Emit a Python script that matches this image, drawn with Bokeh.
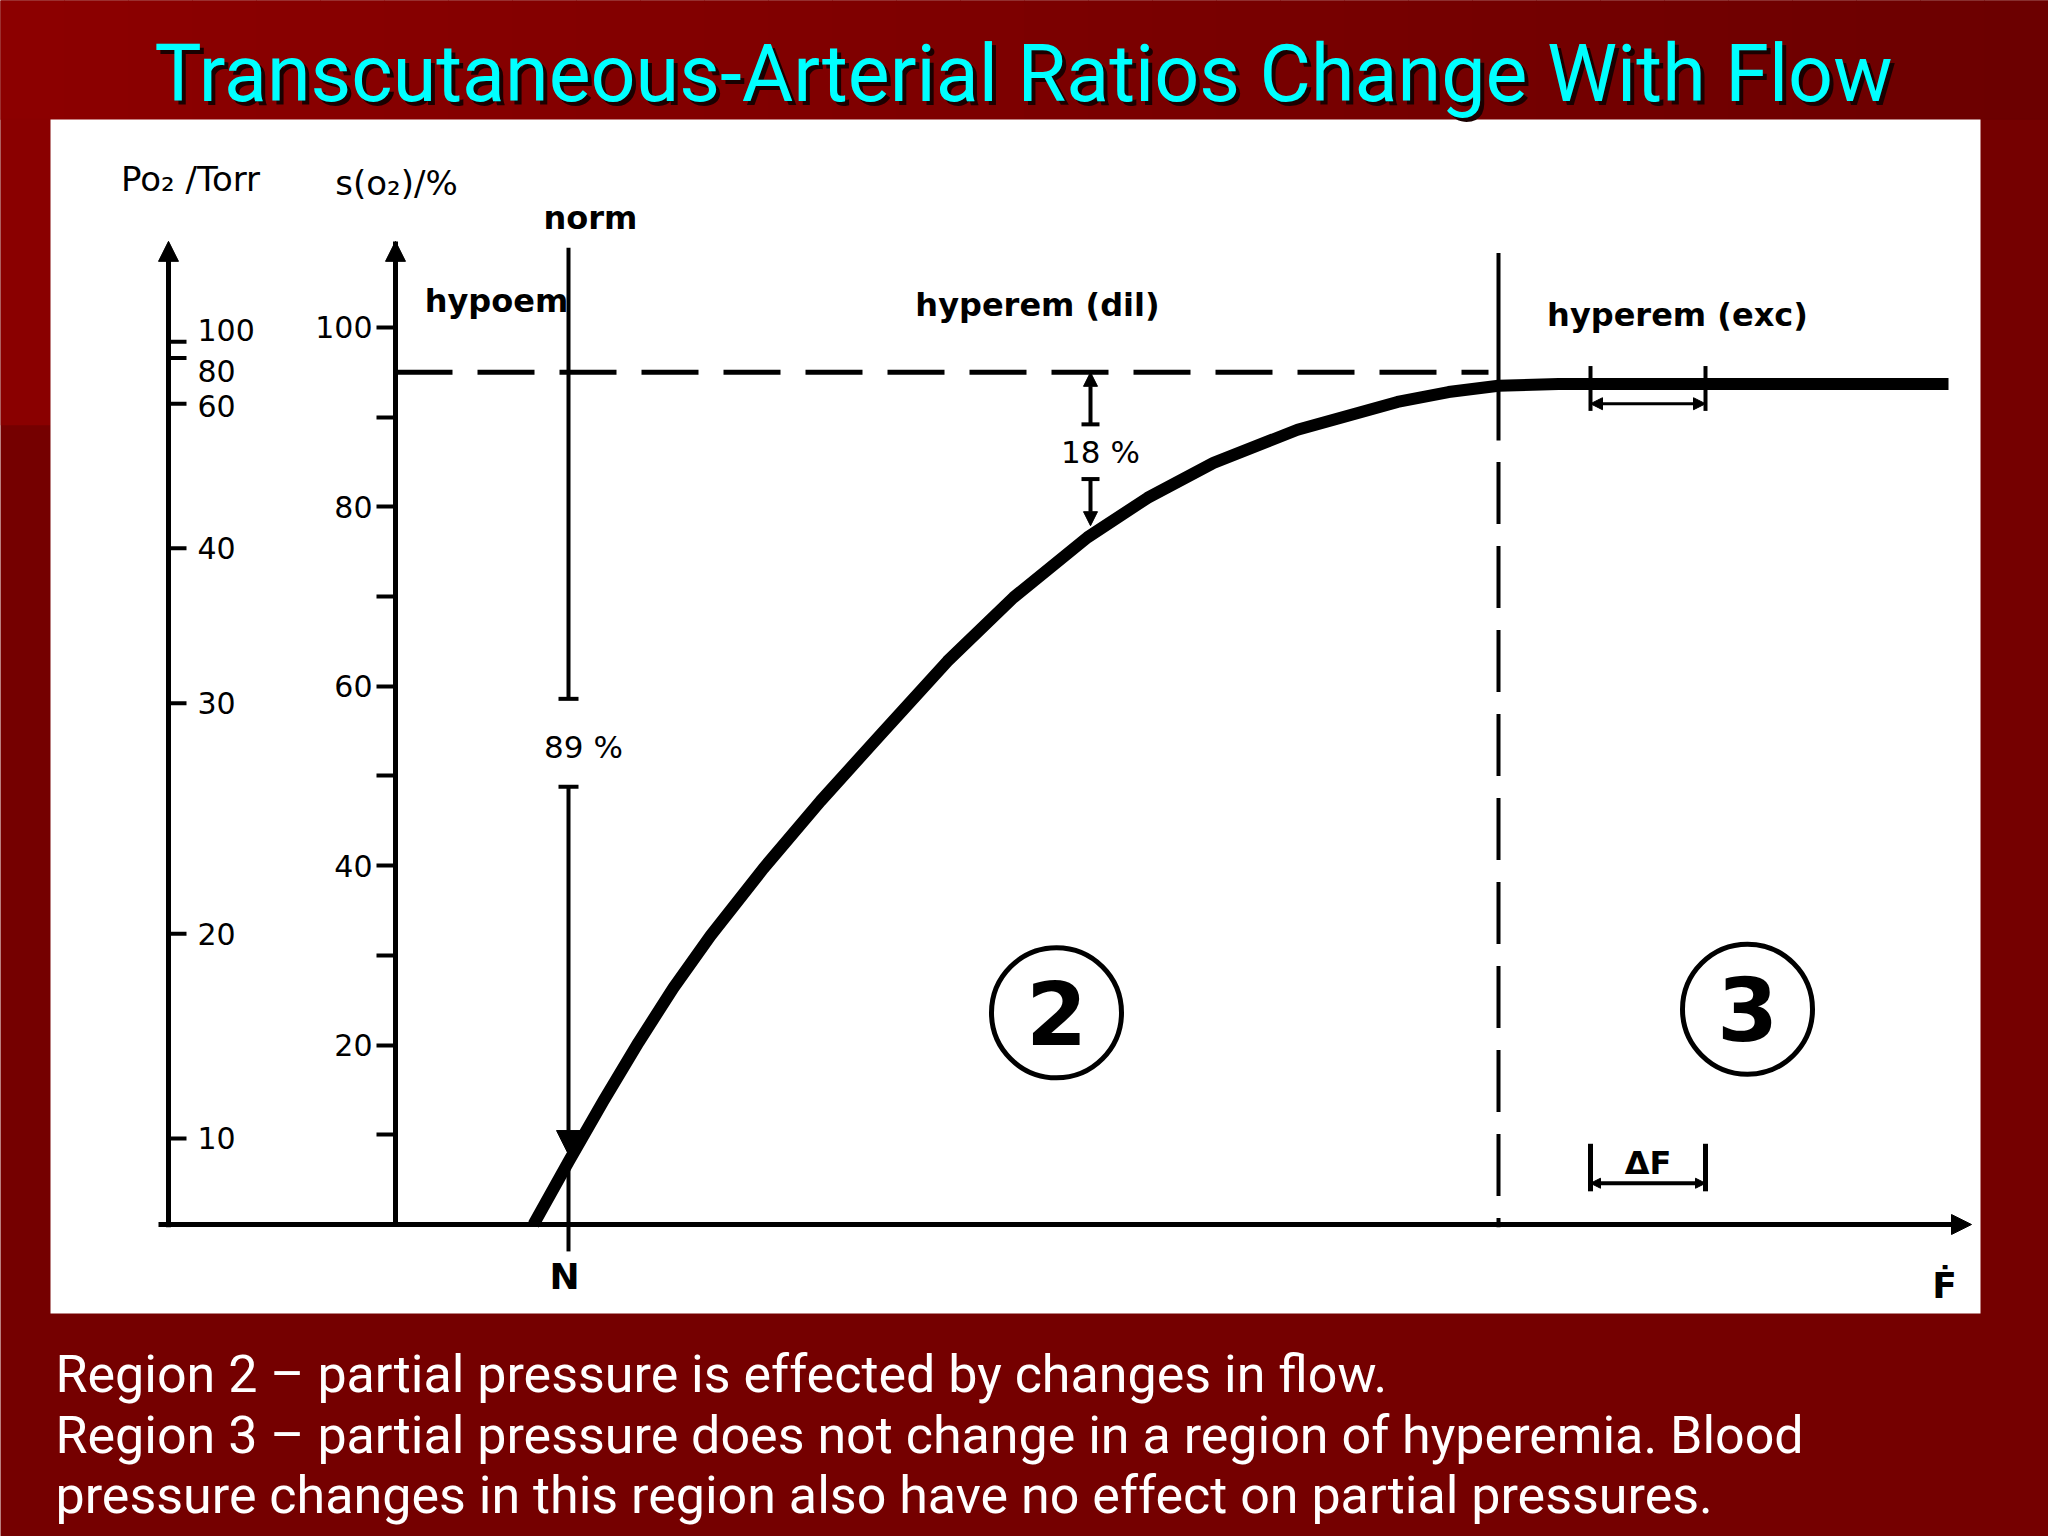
from bokeh.plotting import figure
from bokeh.models import Range1d, LinearAxis, FixedTicker, Arrow, NormalHead, Label
from bokeh.core.properties import value
from bokeh.embed import file_html
from bokeh.resources import INLINE

# ---------------- data ----------------
flow = [3.65, 4.0, 4.35, 4.7, 5.05, 5.42, 5.95, 6.52, 7.12, 7.79, 8.45, 9.19,
        9.79, 10.45, 11.29, 12.29, 12.8, 13.3, 13.9, 17.8]
so2 = [0.0, 7.0, 13.8, 20.3, 26.4, 32.2, 39.7, 47.2, 54.6, 62.8, 69.9, 76.6,
       81.0, 84.9, 88.6, 91.7, 92.8, 93.5, 93.7, 93.7]
arterial_so2 = 95.0

so2_ticks = [20, 40, 60, 80, 100]
so2_minor = [10, 30, 50, 70, 90]

po2_labels = ["10", "20", "30", "40", "60", "80", "100"]
po2_tick_so2 = [9.6, 32.4, 58.1, 75.4, 91.5, 96.6, 98.4]
po2_label_shift = [0, 0, 0, 0, -0.2, -1.4, 1.3]

flow_norm = 4.0
flow_dil_limit = 13.3
flow_gap_dil = 9.22
delta_f = [14.22, 15.37]

gap_labels = ["89 %", "18 %"]
region_labels = ["2", "3"]
region_flow = [8.88, 15.79]
region_so2 = [23.6, 24.0]

TITLE = "Transcutaneous-Arterial Ratios Change With Flow"
NOTES = ["Region 2 \u2013 partial pressure is effected by changes in flow.",
         "Region 3 \u2013 partial pressure does not change in a region of hyperemia.  Blood",
         "pressure changes in this region also have no effect on partial pressures."]

# ---------------- layout ----------------
X0, X1 = -1.68, 18.80          # whole slide width in flow units
Y0, Y1 = -34.78, 136.45        # whole slide height in s(O2) units
PANEL = dict(left=-1.18, right=18.12, bottom=-9.92, top=123.19)
PO2_X = 0.0
SO2_X = 2.27
AXIS_TOP = 109.6
F_END = 18.03
BG = "#750000"
INK = "black"
FONT = "DejaVu Sans"

p = figure(width=2048, height=1536,
           x_range=Range1d(X0, X1), y_range=Range1d(Y0, Y1),
           x_axis_type=None, y_axis_type=None,
           toolbar_location=None, output_backend="svg",
           min_border=0,
           background_fill_color=BG, border_fill_color=BG,
           outline_line_color=None)

# slide background shading
nb = 32
band_l = [X0 + (X1 - X0) * i / nb for i in range(nb)]
band_r = [X0 + (X1 - X0) * (i + 1) / nb for i in range(nb)]
band_c = ["#%02x0000" % int(round(0x8C + (0x6C - 0x8C) * i / (nb - 1))) for i in range(nb)]
p.quad(left=band_l, right=band_r, bottom=[PANEL["top"]] * nb, top=[Y1] * nb,
       fill_color=band_c, line_color=band_c)
p.quad(left=[X0], right=[PANEL["left"]], bottom=[89.1], top=[PANEL["top"]],
       fill_color="#8A0000", line_color=None)

# white figure panel
p.quad(left=[PANEL["left"]], right=[PANEL["right"]], bottom=[PANEL["bottom"]], top=[PANEL["top"]],
       fill_color="white", line_color=None)

# s(O2) axis (real Bokeh axis placed inside the frame)
ax = LinearAxis(fixed_location=SO2_X,
                ticker=FixedTicker(ticks=so2_ticks, minor_ticks=so2_minor),
                bounds=(0, AXIS_TOP))
ax.axis_line_width = 5
ax.axis_line_color = INK
ax.major_tick_line_width = 4
ax.major_tick_line_color = INK
ax.major_tick_out = 19
ax.major_tick_in = 0
ax.minor_tick_line_width = 4
ax.minor_tick_line_color = INK
ax.minor_tick_out = 19
ax.minor_tick_in = 0
ax.major_label_text_font = FONT
ax.major_label_text_font_size = "30px"
ax.major_label_text_color = INK
ax.major_label_standoff = 4
p.add_layout(ax, "left")

# PO2 axis (non-linear scale against s(O2))
n = len(po2_tick_so2)
p.segment(x0=[PO2_X], y0=[-0.3], x1=[PO2_X], y1=[AXIS_TOP - 1], line_width=5, line_color=INK)
p.segment(x0=[PO2_X] * n, x1=[PO2_X + 0.18] * n, y0=po2_tick_so2, y1=po2_tick_so2,
          line_width=4, line_color=INK)
p.text(x=[PO2_X + 0.29] * n, y=[t + s for t, s in zip(po2_tick_so2, po2_label_shift)],
       text=po2_labels, text_font=value(FONT), text_font_size="30px",
       text_align="left", text_baseline="middle", text_color=INK)

# axis titles
p.text(x=[0.22, 2.28], y=[116.6, 116.1], text=["Po\u2082 /Torr", "s(o\u2082)/%"],
       text_font=value(FONT), text_font_size="34px", text_align="center",
       text_baseline="middle", text_color=INK)

# flow axis
p.segment(x0=[-0.1], y0=[0], x1=[F_END - 0.3], y1=[0], line_width=5, line_color=INK)

for xs, ys, xe, ye in [(PO2_X, AXIS_TOP - 4, PO2_X, AXIS_TOP),
                       (SO2_X, AXIS_TOP - 4, SO2_X, AXIS_TOP),
                       (F_END - 0.5, 0, F_END, 0)]:
    p.add_layout(Arrow(start=None, end=NormalHead(size=20, fill_color=INK, line_color=INK),
                       x_start=xs, y_start=ys, x_end=xe, y_end=ye,
                       line_width=5, line_color=INK))

# arterial level (dashed)
p.segment(x0=[SO2_X], y0=[arterial_so2], x1=[flow_dil_limit - 0.1], y1=[arterial_so2],
          line_width=5, line_color=INK, line_dash="57 25")

# dilatation limit line
p.segment(x0=[flow_dil_limit], y0=[87.4], x1=[flow_dil_limit], y1=[108.3],
          line_width=4, line_color=INK)
p.segment(x0=[flow_dil_limit], y0=[85.0], x1=[flow_dil_limit], y1=[-0.3],
          line_width=4, line_color=INK, line_dash="62 22")

# norm line with 89 % gap
p.segment(x0=[flow_norm], y0=[108.9], x1=[flow_norm], y1=[58.6], line_width=4, line_color=INK)
p.segment(x0=[flow_norm, flow_norm], y0=[7.8, 48.8], x1=[flow_norm, flow_norm], y1=[-3.0, 20],
          line_width=4, line_color=INK)
p.segment(x0=[flow_norm - 0.1] * 2, x1=[flow_norm + 0.1] * 2, y0=[58.6, 48.8], y1=[58.6, 48.8],
          line_width=4, line_color=INK)
p.add_layout(Arrow(start=None, end=NormalHead(size=24, fill_color=INK, line_color=INK),
                   x_start=flow_norm, y_start=20, x_end=flow_norm, y_end=7.8,
                   line_width=4, line_color=INK))

# 18 % gap
p.segment(x0=[flow_gap_dil - 0.09] * 2, x1=[flow_gap_dil + 0.09] * 2, y0=[89.2, 83.1], y1=[89.2, 83.1],
          line_width=4, line_color=INK)
for ys, ye in [(89.2, 95.0), (83.1, 77.9)]:
    p.add_layout(Arrow(start=None, end=NormalHead(size=14, fill_color=INK, line_color=INK),
                       x_start=flow_gap_dil, y_start=ys, x_end=flow_gap_dil, y_end=ye,
                       line_width=4, line_color=INK))

p.text(x=[4.15, 9.32], y=[53.2, 86.1], text=gap_labels, text_font=value(FONT),
       text_font_size="31px", text_align="center", text_baseline="middle", text_color=INK)

# delta F markers
p.segment(x0=delta_f, x1=delta_f, y0=[95.7, 95.7], y1=[90.7, 90.7], line_width=4, line_color=INK)
p.add_layout(Arrow(start=NormalHead(size=12, fill_color=INK, line_color=INK),
                   end=NormalHead(size=12, fill_color=INK, line_color=INK),
                   x_start=delta_f[0], y_start=91.5, x_end=delta_f[1], y_end=91.5,
                   line_width=3, line_color=INK))
p.segment(x0=delta_f, x1=delta_f, y0=[9.0, 9.0], y1=[3.7, 3.7], line_width=5, line_color=INK)
p.add_layout(Arrow(start=NormalHead(size=10, fill_color=INK, line_color=INK),
                   end=NormalHead(size=10, fill_color=INK, line_color=INK),
                   x_start=delta_f[0], y_start=4.6, x_end=delta_f[1], y_end=4.6,
                   line_width=4, line_color=INK))

# curve
p.line(x=flow, y=so2, line_width=12, line_color=INK, line_join="round", line_cap="butt")

# region circles
p.scatter(x=region_flow, y=region_so2, marker="circle", size=130,
          fill_color=None, line_color=INK, line_width=5)
p.text(x=region_flow, y=region_so2, text=region_labels, text_font=value(FONT),
       text_font_size="88px", text_font_style="bold", text_align="center",
       text_baseline="middle", text_color=INK)

# word labels
p.text(x=[3.28, 4.22, 8.69, 15.09], y=[103.0, 112.2, 102.5, 101.4],
       text=["hypoem", "norm", "hyperem (dil)", "hyperem (exc)"],
       text_font=value(FONT), text_font_size="32px", text_font_style="bold",
       text_align="center", text_baseline="middle", text_color=INK)
p.text(x=[sum(delta_f) / 2], y=[6.9], text=["\u0394F"], text_font=value(FONT),
       text_font_size="32px", text_font_style="bold", text_align="center",
       text_baseline="middle", text_color=INK)
p.text(x=[3.96, 17.76], y=[-5.8, -6.8], text=["N", "\u1e1e"], text_font=value(FONT),
       text_font_size="36px", text_font_style="bold", text_align="center",
       text_baseline="alphabetic", text_color=INK)

# slide title with shadow
for col, dx, dy in [("#1a0000", 4, -4), ("#00FFFF", 0, 0)]:
    p.add_layout(Label(x=8.55, y=128.3, text=TITLE, text_align="center",
                       text_baseline="alphabetic", text_font="Roboto",
                       text_font_size="79px", text_color=col, x_offset=dx, y_offset=dy))

# notes below the figure
for txt, yy in zip(NOTES, [-16.7, -23.5, -30.2]):
    p.add_layout(Label(x=-1.13, y=yy, text=txt, text_align="left",
                       text_baseline="alphabetic", text_font="Roboto",
                       text_font_size="52px", text_color="white"))

open("out.html", "w").write(file_html(p, INLINE))
